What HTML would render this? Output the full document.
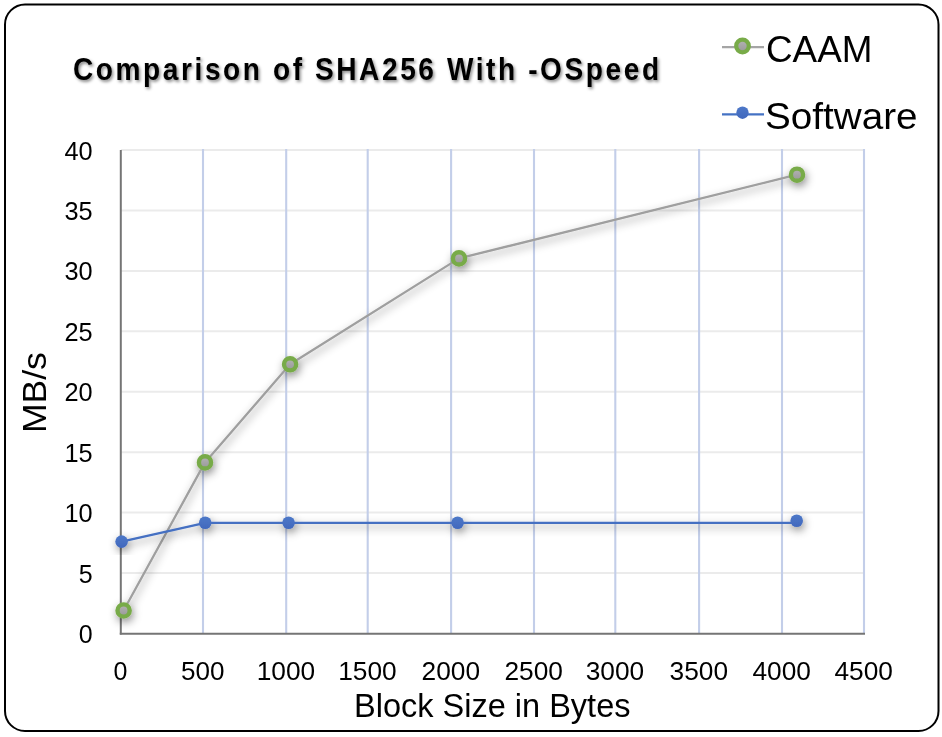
<!DOCTYPE html>
<html><head><meta charset="utf-8">
<style>
html,body{margin:0;padding:0;background:#fff;width:942px;height:737px;overflow:hidden}
svg{display:block;will-change:transform}
text{font-family:"Liberation Sans",sans-serif;fill:#000}
</style></head><body>
<svg width="942" height="737" viewBox="0 0 942 737">
<defs>
<filter id="ts" x="-5%" y="-50%" width="110%" height="200%">
<feDropShadow dx="1.5" dy="2" stdDeviation="1.5" flood-color="#000" flood-opacity="0.45"/>
</filter>
<filter id="ls" x="-10%" y="-20%" width="120%" height="140%">
<feDropShadow dx="1.5" dy="3.5" stdDeviation="4" flood-color="#000" flood-opacity="0.45"/>
</filter>
<linearGradient id="gg" x1="0" y1="0" x2="0" y2="1"><stop offset="0" stop-color="#b4b4b4"/><stop offset="1" stop-color="#989898"/></linearGradient>
<linearGradient id="bg" x1="0" y1="0" x2="0" y2="1"><stop offset="0" stop-color="#4d78c8"/><stop offset="1" stop-color="#4168bd"/></linearGradient>
</defs>
<rect x="0" y="0" width="942" height="737" fill="#fff"/>
<rect x="5" y="4.5" width="933.5" height="726.5" rx="20" ry="20" fill="#fff" stroke="#000" stroke-width="2"/>

<g filter="url(#ts)"><text transform="scale(0.92,1)" x="79.35" y="80" font-size="30.5" font-weight="bold" textLength="637" lengthAdjust="spacing">Comparison of SHA256 With -OSpeed</text></g>

<line x1="722" y1="47.2" x2="764" y2="47.2" stroke="#a5a5a5" stroke-width="2.25"/>
<circle cx="742.5" cy="46" r="6.3" fill="url(#gg)" stroke="#78ab48" stroke-width="4.2"/>
<text x="766" y="62" font-size="36" textLength="106.5" lengthAdjust="spacingAndGlyphs">CAAM</text>
<line x1="722" y1="114.4" x2="764" y2="114.4" stroke="#4472c4" stroke-width="2.25"/>
<circle cx="742.5" cy="112.7" r="6.2" fill="url(#bg)"/>
<text x="765" y="128.6" font-size="36" textLength="152.5" lengthAdjust="spacingAndGlyphs">Software</text>

<g stroke="#ebebeb" stroke-width="2">
<line x1="121" y1="150.0" x2="865" y2="150.0"/>
<line x1="121" y1="210.5" x2="865" y2="210.5"/>
<line x1="121" y1="270.9" x2="865" y2="270.9"/>
<line x1="121" y1="331.3" x2="865" y2="331.3"/>
<line x1="121" y1="391.8" x2="865" y2="391.8"/>
<line x1="121" y1="452.2" x2="865" y2="452.2"/>
<line x1="121" y1="512.6" x2="865" y2="512.6"/>
<line x1="121" y1="573.1" x2="865" y2="573.1"/>
</g>
<g stroke="#c3cee9" stroke-width="2.1">
<line x1="203.0" y1="149" x2="203.0" y2="633.5"/>
<line x1="286.2" y1="149" x2="286.2" y2="633.5"/>
<line x1="367.7" y1="149" x2="367.7" y2="633.5"/>
<line x1="451.1" y1="149" x2="451.1" y2="633.5"/>
<line x1="534.0" y1="149" x2="534.0" y2="633.5"/>
<line x1="615.3" y1="149" x2="615.3" y2="633.5"/>
<line x1="699.1" y1="149" x2="699.1" y2="633.5"/>
<line x1="782.0" y1="149" x2="782.0" y2="633.5"/>
<line x1="864.0" y1="149" x2="864.0" y2="633.5"/>
</g>
<line x1="120.8" y1="150" x2="120.8" y2="634.5" stroke="#757575" stroke-width="2"/>
<line x1="119.8" y1="633.7" x2="865" y2="633.7" stroke="#757575" stroke-width="2"/>

<g font-size="25" text-anchor="end">
<text x="92.6" y="159.5" textLength="28.2" lengthAdjust="spacingAndGlyphs">40</text>
<text x="92.6" y="220.0" textLength="28.2" lengthAdjust="spacingAndGlyphs">35</text>
<text x="92.6" y="280.4" textLength="28.2" lengthAdjust="spacingAndGlyphs">30</text>
<text x="92.6" y="340.8" textLength="28.2" lengthAdjust="spacingAndGlyphs">25</text>
<text x="92.6" y="401.3" textLength="28.2" lengthAdjust="spacingAndGlyphs">20</text>
<text x="92.6" y="461.7" textLength="28.2" lengthAdjust="spacingAndGlyphs">15</text>
<text x="92.6" y="522.1" textLength="28.2" lengthAdjust="spacingAndGlyphs">10</text>
<text x="92.6" y="582.6">5</text>
<text x="92.6" y="643.0">0</text>
</g>
<g font-size="25" text-anchor="middle">
<text x="120.5" y="680">0</text>
<text x="202.7" y="680" textLength="43.5" lengthAdjust="spacingAndGlyphs">500</text>
<text x="285.9" y="680" textLength="58.5" lengthAdjust="spacingAndGlyphs">1000</text>
<text x="367.4" y="680" textLength="58.5" lengthAdjust="spacingAndGlyphs">1500</text>
<text x="450.8" y="680" textLength="58.5" lengthAdjust="spacingAndGlyphs">2000</text>
<text x="533.7" y="680" textLength="58.5" lengthAdjust="spacingAndGlyphs">2500</text>
<text x="615.0" y="680" textLength="58.5" lengthAdjust="spacingAndGlyphs">3000</text>
<text x="698.8" y="680" textLength="58.5" lengthAdjust="spacingAndGlyphs">3500</text>
<text x="781.7" y="680" textLength="58.5" lengthAdjust="spacingAndGlyphs">4000</text>
<text x="863.7" y="680" textLength="58.5" lengthAdjust="spacingAndGlyphs">4500</text>
</g>

<text x="354" y="717.3" font-size="34" textLength="276.5" lengthAdjust="spacingAndGlyphs">Block Size in Bytes</text>
<text transform="translate(46.4,433.1) rotate(-90)" x="0" y="0" font-size="34" textLength="81" lengthAdjust="spacingAndGlyphs">MB/s</text>

<g filter="url(#ls)">
<polyline points="123.6,610.5 205.0,462.4 290.1,364.3 459.0,258.4 797.0,174.7" fill="none" stroke="#9f9f9f" stroke-width="2.3" stroke-linejoin="round"/>
<circle cx="123.6" cy="610.5" r="6.1" fill="url(#gg)" stroke="#78ab48" stroke-width="4.4"/>
<circle cx="205.0" cy="462.4" r="6.1" fill="url(#gg)" stroke="#78ab48" stroke-width="4.4"/>
<circle cx="290.1" cy="364.3" r="6.1" fill="url(#gg)" stroke="#78ab48" stroke-width="4.4"/>
<circle cx="459.0" cy="258.4" r="6.1" fill="url(#gg)" stroke="#78ab48" stroke-width="4.4"/>
<circle cx="797.0" cy="174.7" r="6.1" fill="url(#gg)" stroke="#78ab48" stroke-width="4.4"/>
</g>
<g filter="url(#ls)">
<polyline points="121.6,541.6 205.2,522.8 288.6,522.8 457.6,522.8 796.6,522.8" fill="none" stroke="#4570c2" stroke-width="2.3" stroke-linejoin="round"/>
<circle cx="121.6" cy="541.6" r="6.3" fill="url(#bg)"/>
<circle cx="205.2" cy="522.8" r="6.3" fill="url(#bg)"/>
<circle cx="288.6" cy="522.8" r="6.3" fill="url(#bg)"/>
<circle cx="457.6" cy="522.8" r="6.3" fill="url(#bg)"/>
<circle cx="796.7" cy="520.8" r="6.3" fill="url(#bg)"/>
</g>
</svg>
</body></html>
